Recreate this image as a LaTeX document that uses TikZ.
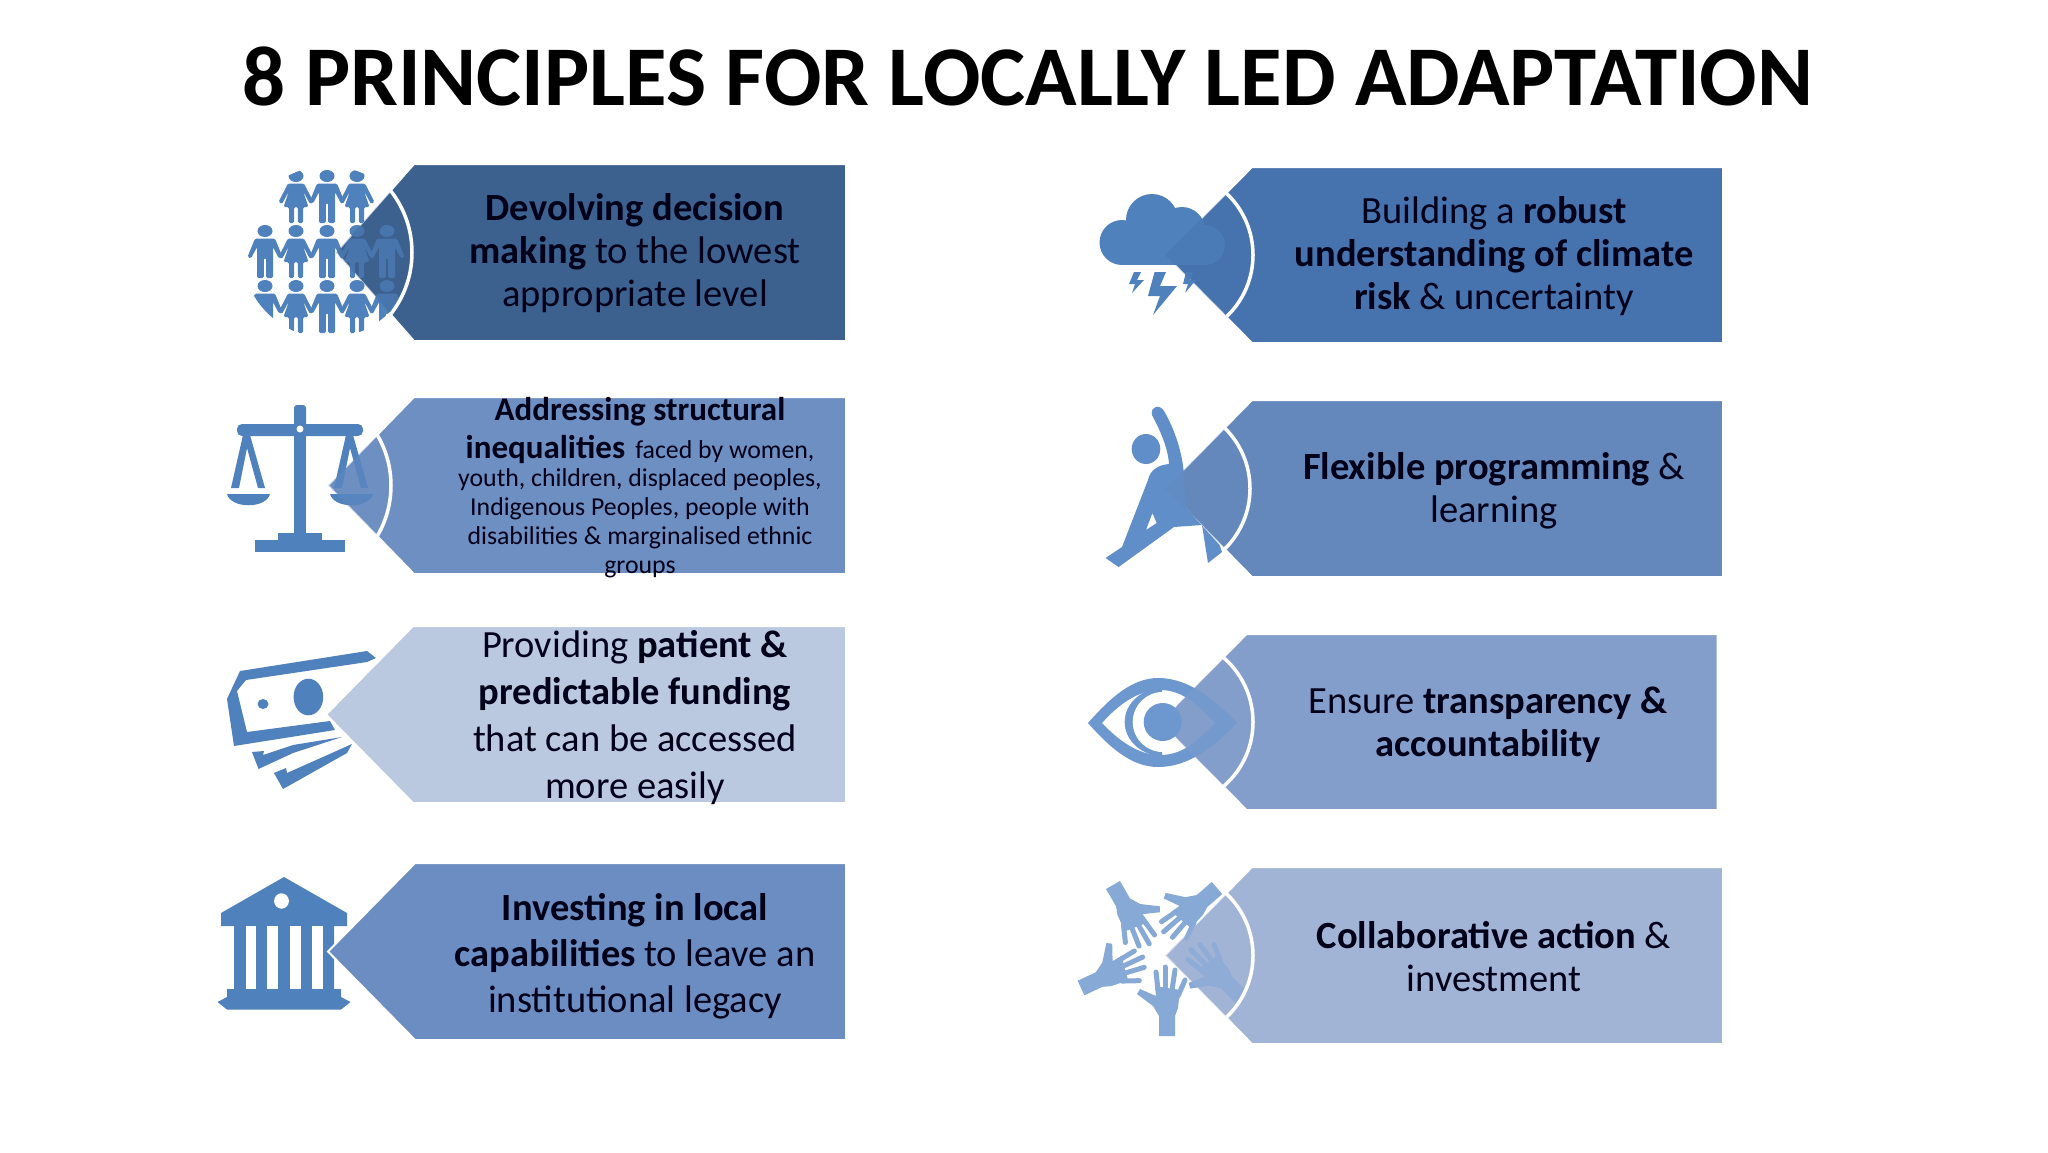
\documentclass[tikz,border=0pt]{standalone}
\usepackage{fontspec}
\setmainfont{Carlito}
\definecolor{tagA}{HTML}{3C618F}
\definecolor{tagB}{HTML}{6E8FC2}
\definecolor{tagC}{HTML}{BAC8E0}
\definecolor{tagD}{HTML}{6C8DC1}
\definecolor{tagE}{HTML}{4672AE}
\definecolor{tagF}{HTML}{6488BC}
\definecolor{tagG}{HTML}{849ECB}
\definecolor{tagH}{HTML}{A2B4D6}
\definecolor{iconblue}{HTML}{4F81BD}
\definecolor{eyeblue}{HTML}{6C98CF}
\definecolor{handblue}{HTML}{86A9D6}
\definecolor{bodyblue}{HTML}{5F8EC8}
\tikzset{
  tagtext/.style={align=center,text=black!90!blue,font=\fontsize{38.5}{43}\selectfont},
  loosetext/.style={align=center,text=black!90!blue,font=\fontsize{38.5}{47}\selectfont},
  smalltext/.style={align=center,text=black!90!blue,font=\fontsize{25.8}{29}\selectfont},
  titletext/.style={text=black,font=\fontsize{85}{90}\selectfont\bfseries},
  tagedge/.style={draw=white,line width=2pt}
}
\newcommand{\arrowtag}[6]{%
  \fill[#6,tagedge] (#1,{(#4+#5)/2}) -- (#2,#4) -- (#3,#4) -- (#3,#5) -- (#2,#5) -- cycle;}
\newcommand{\sectorcap}[7]{%
  \begin{scope}
    \clip (#1,{(#3+#4)/2}) -- ({#1+1.6*(#2-#1)},{(#3+#4)/2+1.6*(#3-#4)/2})
       -- ({#1+1.6*(#2-#1)},{(#3+#4)/2-1.6*(#3-#4)/2}) -- cycle;
    \fill[#7,opacity=.35] (#5,{(#3+#4)/2}) circle (#6pt);
    \draw[white,line width=3.5pt] (#5,{(#3+#4)/2}) circle (#6pt);
  \end{scope}}
\newcommand{\personm}[2]{%
  \begin{scope}[shift={(#1,#2)}]
    \fill[iconblue] (0,0) ellipse (7.5pt and 6pt);
    \fill[iconblue,rounded corners=1.5pt] (-10,7.5) -- (10,7.5) -- (17.5,26) -- (14,27.5) -- (8,16) -- (8,47)
      -- (1.2,47) -- (1.2,27) -- (-1.2,27) -- (-1.2,47) -- (-8,47) -- (-8,16)
      -- (-14,27.5) -- (-17.5,26) -- cycle;
  \end{scope}}
\newcommand{\personf}[2]{%
  \begin{scope}[shift={(#1,#2)}]
    \fill[iconblue] (0,0) ellipse (7.5pt and 6pt);
    \fill[iconblue,rounded corners=1.5pt] (-8,7.5) -- (8,7.5) -- (17.5,26) -- (14,28) -- (7,15) -- (12.5,31)
      -- (7,31) -- (7,47) -- (1.8,47) -- (1.8,31) -- (-1.8,31) -- (-1.8,47) -- (-7,47)
      -- (-7,31) -- (-12.5,31) -- (-7,15) -- (-14,28) -- (-17.5,26) -- cycle;
  \end{scope}}
\newcommand{\handicon}[4]{%
  \begin{scope}[shift={(#1,#2)},rotate=#3,xscale=#4]
    \fill[handblue] (-8,0) -- (-8,-20) -- (-14,-30) -- (-30,-42) -- (-27,-47) -- (-11,-40)
      -- (-12,-50) -- (13,-46) -- (11,-28) -- (8,-20) -- (8,0) -- cycle;
    \draw[handblue,line width=5pt,line cap=round] (-9,-46) -- (-11,-64);
    \draw[handblue,line width=5pt,line cap=round] (-2,-46) -- (-2,-69);
    \draw[handblue,line width=5pt,line cap=round] (5,-46) -- (8,-66);
    \draw[handblue,line width=5pt,line cap=round] (11,-40) -- (18,-56);
  \end{scope}}
\begin{document}
\begin{tikzpicture}[x=1pt,y=-1pt]
  \useasboundingbox (0,0) rectangle (2048,1152);
  \fill[white] (0,0) rectangle (2048,1152);
  \node[titletext] (title) at (1028,76) {8 PRINCIPLES FOR LOCALLY LED ADAPTATION};

  \arrowtag{336}{414}{846}{164}{341}{tagA}
  \begin{scope}
    \clip (328,252) circle (86pt);
    \personf{296}{176} \personm{327}{176} \personf{357}{176}
    \personm{265}{231} \personf{296}{231} \personm{327}{231} \personf{357}{231} \personm{387}{231}
    \personm{265}{286} \personf{296}{286} \personm{327}{286} \personf{357}{286} \personm{387}{286}
  \end{scope}
  \sectorcap{336}{414}{165}{340}{312}{100}{tagA}
  \node[tagtext] (devolve) at (635,253)
    {\textbf{Devolving decision}\\\textbf{making} to the lowest\\appropriate level};

  \arrowtag{328}{414}{846}{397}{574}{tagB}
  \fill[iconblue,rounded corners=5pt] (237,424) rectangle (363,436);
  \fill[iconblue,rounded corners=3pt] (294,405) rectangle (306,440);
  \fill[iconblue] (294,436) rectangle (306,535);
  \fill[iconblue] (278,533) rectangle (322,542);
  \fill[iconblue] (255,540) rectangle (345,552);
  \fill[white] (300,429) circle (3.5pt);
  \fill[iconblue] (243,435) -- (250,435) -- (265,488) -- (258,488) -- (247,448) -- (239,488) -- (231,488) -- cycle;
  \fill[iconblue] (346,435) -- (353,435) -- (368,488) -- (361,488) -- (350,448) -- (342,488) -- (334,488) -- cycle;
  \fill[iconblue] (227,494) -- (270,494) .. controls (266,509) and (231,509) .. cycle;
  \fill[iconblue] (330,494) -- (373,494) .. controls (369,509) and (334,509) .. cycle;
  \sectorcap{328}{414}{398}{573}{291}{100}{tagB}
  \node[smalltext] (address) at (640,488)
    {{\fontsize{33}{30}\selectfont\textbf{Addressing structural}}\\[8.5pt]
     {\fontsize{33}{30}\selectfont\textbf{inequalities}}\, faced by women,\\[-0.5pt]
     youth, children, displaced peoples,\\
     Indigenous Peoples, people with\\
     disabilities \& marginalised ethnic\\
     groups};

  \fill[iconblue] (240,671) -- (367,651) -- (376,658) -- (367,662) -- (246,680) -- (237,691)
    -- (247,732) -- (330,721) -- (335,730) -- (234,746) -- (227,699) -- cycle;
  \fill[iconblue] (308.4,697) ellipse (14.8pt and 18.3pt);
  \fill[iconblue] (263,704) ellipse (5.5pt and 5pt);
  \fill[iconblue] (252,752) -- (264,751) -- (263,755) -- (293,745) -- (342,737) -- (293,753) -- (258.5,769) -- cycle;
  \fill[iconblue] (274,773) -- (286,768) -- (287,773) -- (352,744) -- (347,753) -- (283,789) -- cycle;
  \arrowtag{326}{413}{846}{626}{803}{tagC}
  \node[loosetext] (funding) at (635,718)
    {Providing \textbf{patient \&}\\\textbf{predictable funding}\\that can be accessed\\more easily};

  \fill[iconblue] (284,877) -- (347,913) -- (347,926) -- (334,926) -- (334,989) -- (341,989) -- (341,997)
    -- (350.5,1002) -- (341,1009.5) -- (227,1009.5) -- (217.5,1002) -- (227,997) -- (227,989) -- (234,989)
    -- (234,926) -- (221,926) -- (221,913) -- cycle;
  \fill[white] (281.5,901) ellipse (7.4pt and 7.7pt);
  \fill[white] (245.5,926) rectangle (255.5,989);
  \fill[white] (267,926) rectangle (278,989);
  \fill[white] (290,926) rectangle (300.5,989);
  \fill[white] (312,926) rectangle (323,989);
  \arrowtag{328}{415}{846}{863}{1040}{tagD}
  \node[loosetext,font=\fontsize{38.5}{46}\selectfont] (capable) at (635,956)
    {\textbf{Investing in local}\\\textbf{capabilities} to leave an\\institutional legacy};

  \arrowtag{1165}{1252}{1723}{167}{343}{tagE}
  \fill[iconblue] (1122,242.5) circle (22.5pt);
  \fill[iconblue] (1152,220) circle (26pt);
  \fill[iconblue] (1182,230) circle (23pt);
  \fill[iconblue] (1205,245) circle (20pt);
  \fill[iconblue] (1122,235) rectangle (1205,265);
  \fill[iconblue] (1154.6,272) -- (1166,272) -- (1160,286) -- (1177,286) -- (1153,315) -- (1160,296) -- (1148,296) -- cycle;
  \fill[iconblue] (1134,272) -- (1141,272) -- (1137,280) -- (1144,280) -- (1132,293) -- (1135,284) -- (1129,284) -- cycle;
  \fill[iconblue] (1186,272) -- (1193,272) -- (1190,280) -- (1196,280) -- (1185,293) -- (1188,284) -- (1183,284) -- cycle;
  \sectorcap{1165}{1252}{168}{342}{1168}{85}{tagE}
  \node[tagtext] (climate) at (1494,256)
    {Building a \textbf{robust}\\\textbf{understanding of climate}\\\textbf{risk} \& uncertainty};

  \arrowtag{1165}{1252}{1723}{400}{577}{tagF}
  \fill[bodyblue] (1146,449) ellipse (14.3pt and 15pt);
  \fill[bodyblue,even odd rule] (1152,415) .. controls (1150,406) and (1160,404) .. (1164,411)
    .. controls (1174,428) and (1184,455) .. (1184,480) -- (1186,508)
    -- (1219.6,545) -- (1222,552) -- (1208,563) -- (1202,525) -- (1174,527) -- (1118.6,567)
    -- (1105.6,558) -- (1122,547) -- (1148,480) .. controls (1150,470) and (1158,465) .. (1169,464)
    .. controls (1168,448) and (1160,430) .. cycle
    (1152.4,513) -- (1146,530) -- (1156.7,523) -- cycle;
  \sectorcap{1165}{1252}{401}{576}{1165}{85}{tagF}
  \node[tagtext] (flexible) at (1494,490.5)
    {\textbf{Flexible programming} \&\\learning};

  \arrowtag{1159.5}{1246.5}{1717.5}{634}{810}{tagG}
  \fill[eyeblue,even odd rule] (1088,723) .. controls (1110,698) and (1132,678) .. (1158,678)
    .. controls (1188,678) and (1213,698) .. (1237,723)
    .. controls (1213,748) and (1188,767) .. (1158,767)
    .. controls (1132,767) and (1110,748) .. cycle
    (1102,723) .. controls (1118,705) and (1138,690) .. (1160,690)
    .. controls (1185,690) and (1200,708) .. (1215,723)
    .. controls (1200,738) and (1185,755) .. (1160,755)
    .. controls (1138,755) and (1118,740) .. cycle;
  \begin{scope}
    \clip (1100,670) rectangle (1162,775);
    \fill[eyeblue] (1162.7,722) ellipse (38pt and 34pt);
  \end{scope}
  \sectorcap{1159.5}{1246.5}{635}{809}{1168}{85}{tagG}
  \begin{scope}
    \clip (1162.7,722) -- (1195,684) -- (1100,684) -- (1100,760) -- (1195,760) -- cycle;
    \fill[white] (1162.7,722) circle (30pt);
  \end{scope}
  \fill[eyeblue] (1162.7,722) circle (19pt);
  \node[tagtext] (transparent) at (1488,725)
    {Ensure \textbf{transparency \&}\\\textbf{accountability}};

  \arrowtag{1165}{1252}{1723}{867}{1044}{tagH}
  \handicon{1113}{885}{210}{1}
  \handicon{1217}{888}{131}{-1}
  \handicon{1081}{988}{-65}{1}
  \handicon{1167}{1036}{0}{1}
  \handicon{1241}{997}{45}{1}
  \sectorcap{1165}{1252}{868}{1043}{1168}{85}{tagH}
  \node[tagtext] (collab) at (1494,957)
    {\textbf{Collaborative action} \&\\investment};
\end{tikzpicture}
\end{document}
